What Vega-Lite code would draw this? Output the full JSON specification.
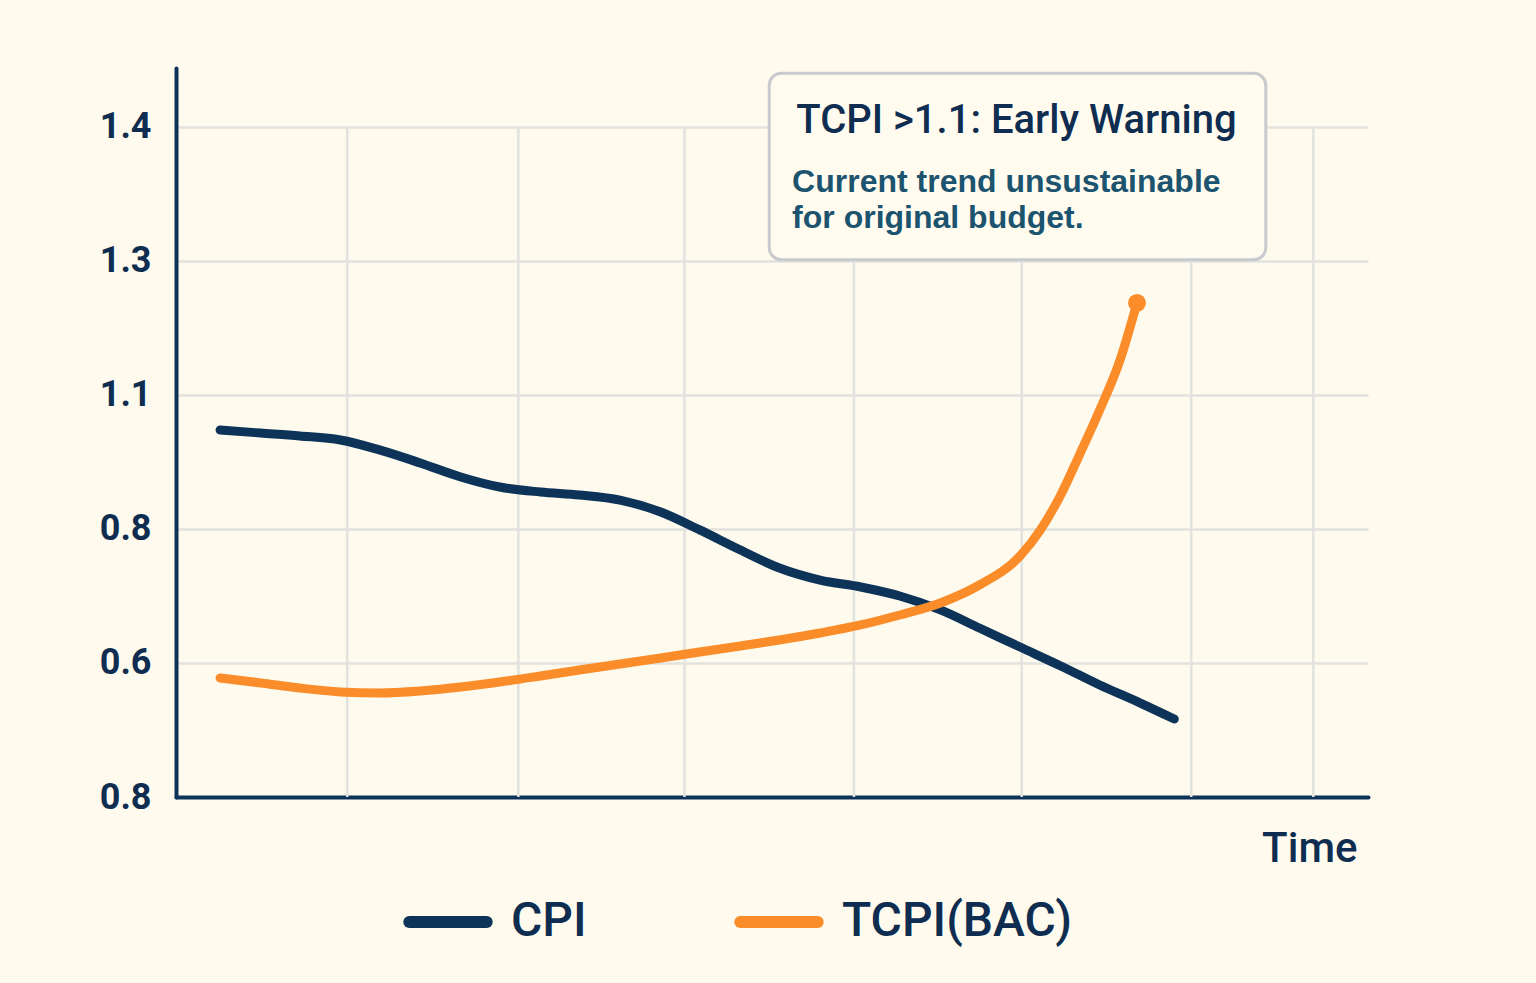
{
  "$schema": "https://vega.github.io/schema/vega-lite/v6.json",
  "width": 1192,
  "height": 729,
  "autosize": {"type": "none"},
  "padding": {"left": 176, "top": 68, "right": 168, "bottom": 186},
  "background": "#fefbee",
  "config": {"view": {"stroke": null}, "font": "Roboto"},
  "datasets": {
    "vgrid": [{"t": 1.01}, {"t": 2.02}, {"t": 3.0}, {"t": 4.0}, {"t": 4.99}, {"t": 5.99}, {"t": 6.71}],
    "series": [
      {"series": "CPI", "t": 0.26, "v": 2.739},
      {"series": "CPI", "t": 0.50, "v": 2.716},
      {"series": "CPI", "t": 0.73, "v": 2.694},
      {"series": "CPI", "t": 0.97, "v": 2.664},
      {"series": "CPI", "t": 1.20, "v": 2.590},
      {"series": "CPI", "t": 1.44, "v": 2.493},
      {"series": "CPI", "t": 1.68, "v": 2.388},
      {"series": "CPI", "t": 1.91, "v": 2.313},
      {"series": "CPI", "t": 2.15, "v": 2.276},
      {"series": "CPI", "t": 2.38, "v": 2.254},
      {"series": "CPI", "t": 2.62, "v": 2.216},
      {"series": "CPI", "t": 2.86, "v": 2.127},
      {"series": "CPI", "t": 3.09, "v": 1.993},
      {"series": "CPI", "t": 3.33, "v": 1.843},
      {"series": "CPI", "t": 3.56, "v": 1.709},
      {"series": "CPI", "t": 3.80, "v": 1.619},
      {"series": "CPI", "t": 4.04, "v": 1.567},
      {"series": "CPI", "t": 4.27, "v": 1.500},
      {"series": "CPI", "t": 4.51, "v": 1.396},
      {"series": "CPI", "t": 4.74, "v": 1.261},
      {"series": "CPI", "t": 4.98, "v": 1.119},
      {"series": "CPI", "t": 5.22, "v": 0.978},
      {"series": "CPI", "t": 5.45, "v": 0.836},
      {"series": "CPI", "t": 5.69, "v": 0.701},
      {"series": "CPI", "t": 5.89, "v": 0.582},
      {"series": "TCPI(BAC)", "t": 0.26, "v": 0.888},
      {"series": "TCPI(BAC)", "t": 0.50, "v": 0.851},
      {"series": "TCPI(BAC)", "t": 0.73, "v": 0.813},
      {"series": "TCPI(BAC)", "t": 0.97, "v": 0.784},
      {"series": "TCPI(BAC)", "t": 1.20, "v": 0.776},
      {"series": "TCPI(BAC)", "t": 1.44, "v": 0.791},
      {"series": "TCPI(BAC)", "t": 1.68, "v": 0.821},
      {"series": "TCPI(BAC)", "t": 1.91, "v": 0.858},
      {"series": "TCPI(BAC)", "t": 2.15, "v": 0.903},
      {"series": "TCPI(BAC)", "t": 2.38, "v": 0.948},
      {"series": "TCPI(BAC)", "t": 2.62, "v": 0.993},
      {"series": "TCPI(BAC)", "t": 2.86, "v": 1.037},
      {"series": "TCPI(BAC)", "t": 3.09, "v": 1.082},
      {"series": "TCPI(BAC)", "t": 3.33, "v": 1.127},
      {"series": "TCPI(BAC)", "t": 3.56, "v": 1.172},
      {"series": "TCPI(BAC)", "t": 3.80, "v": 1.224},
      {"series": "TCPI(BAC)", "t": 4.04, "v": 1.284},
      {"series": "TCPI(BAC)", "t": 4.27, "v": 1.358},
      {"series": "TCPI(BAC)", "t": 4.51, "v": 1.448},
      {"series": "TCPI(BAC)", "t": 4.74, "v": 1.582},
      {"series": "TCPI(BAC)", "t": 4.98, "v": 1.799},
      {"series": "TCPI(BAC)", "t": 5.10, "v": 1.993},
      {"series": "TCPI(BAC)", "t": 5.22, "v": 2.254},
      {"series": "TCPI(BAC)", "t": 5.33, "v": 2.552},
      {"series": "TCPI(BAC)", "t": 5.45, "v": 2.888},
      {"series": "TCPI(BAC)", "t": 5.57, "v": 3.261},
      {"series": "TCPI(BAC)", "t": 5.67, "v": 3.687}
    ],
    "box": [{"x1": 3.5, "x2": 6.43, "y1": 5.40, "y2": 4.01}],
    "notes": [
      {"role": "title", "label": "TCPI >1.1: Early Warning", "t": 3.66, "v": 4.955},
      {"role": "body", "label": "Current trend unsustainable", "t": 3.635, "v": 4.515},
      {"role": "body", "label": "for original budget.", "t": 3.635, "v": 4.246}
    ]
  },
  "layer": [
    {
      "data": {"name": "vgrid"},
      "mark": {"type": "rule", "color": "#e2e2df", "strokeWidth": 2.5},
      "encoding": {
        "x": {"field": "t", "type": "quantitative"},
        "y": {"datum": 0, "type": "quantitative"},
        "y2": {"datum": 5}
      }
    },
    {
      "data": {"name": "series"},
      "mark": {"type": "line", "strokeWidth": 9, "strokeCap": "round", "strokeJoin": "round", "interpolate": "monotone"},
      "encoding": {
        "x": {
          "field": "t", "type": "quantitative",
          "scale": {"domain": [0, 7.033], "nice": false, "zero": false},
          "axis": {
            "title": "Time", "grid": false, "labels": false, "ticks": false,
            "domainColor": "#0d3358", "domainWidth": 4, "domainCap": "round",
            "titleFont": "Roboto", "titleFontSize": 42, "titleFontWeight": 500, "titleColor": "#0f2d50",
            "titleAnchor": "end", "titleAlign": "right", "titleBaseline": "alphabetic",
            "titleX": 1181, "titleY": 64
          }
        },
        "y": {
          "field": "v", "type": "quantitative",
          "scale": {"domain": [0, 5.44], "nice": false, "zero": false},
          "axis": {
            "title": null, "values": [0, 1, 2, 3, 4, 5],
            "labelExpr": "['0.8','0.6','0.8','1.1','1.3','1.4'][datum.value]",
            "grid": true, "gridColor": "#e2e2df", "gridWidth": 2.5,
            "ticks": false, "domainColor": "#0d3358", "domainWidth": 4, "domainCap": "round",
            "labelFont": "Roboto", "labelFontSize": 36, "labelFontWeight": 700, "labelColor": "#0f2d50",
            "labelPadding": 25, "labelFlush": false, "labelOverlap": false
          }
        },
        "color": {
          "field": "series", "type": "nominal",
          "scale": {"domain": ["CPI", "TCPI(BAC)"], "range": ["#0d3358", "#fb8c2a"]},
          "legend": {
            "orient": "none", "legendX": 227, "legendY": 809, "direction": "horizontal", "title": null,
            "symbolType": "stroke", "symbolSize": 6000, "symbolStrokeWidth": 12,
            "labelFont": "Roboto", "labelFontSize": 48, "labelFontWeight": 500, "labelColor": "#0f2d50",
            "labelLimit": 500, "labelOffset": 18, "columnPadding": 129, "padding": 0,
            "encode": {"symbols": {"update": {"strokeCap": {"value": "round"}}}}
          }
        }
      }
    },
    {
      "data": {"name": "series"},
      "transform": [{"filter": "datum.series == 'TCPI(BAC)' && datum.t == 5.67"}],
      "mark": {"type": "point", "filled": true, "color": "#fb8c2a", "size": 320, "opacity": 1},
      "encoding": {
        "x": {"field": "t", "type": "quantitative"},
        "y": {"field": "v", "type": "quantitative"}
      }
    },
    {
      "data": {"name": "box"},
      "mark": {"type": "rect", "fill": "#fffcef", "stroke": "#c8cacd", "strokeWidth": 3, "cornerRadius": 12},
      "encoding": {
        "x": {"field": "x1", "type": "quantitative"},
        "x2": {"field": "x2"},
        "y": {"field": "y1", "type": "quantitative"},
        "y2": {"field": "y2"}
      }
    },
    {
      "data": {"name": "notes"},
      "transform": [{"filter": "datum.role == 'title'"}],
      "mark": {"type": "text", "align": "left", "baseline": "alphabetic", "font": "Roboto", "fontSize": 40, "fontWeight": 500, "color": "#0f2d50"},
      "encoding": {
        "x": {"field": "t", "type": "quantitative"},
        "y": {"field": "v", "type": "quantitative"},
        "text": {"field": "label"}
      }
    },
    {
      "data": {"name": "notes"},
      "transform": [{"filter": "datum.role == 'body'"}],
      "mark": {"type": "text", "align": "left", "baseline": "alphabetic", "font": "Liberation Sans", "fontSize": 32, "fontWeight": "bold", "color": "#1c5470"},
      "encoding": {
        "x": {"field": "t", "type": "quantitative"},
        "y": {"field": "v", "type": "quantitative"},
        "text": {"field": "label"}
      }
    }
  ]
}
